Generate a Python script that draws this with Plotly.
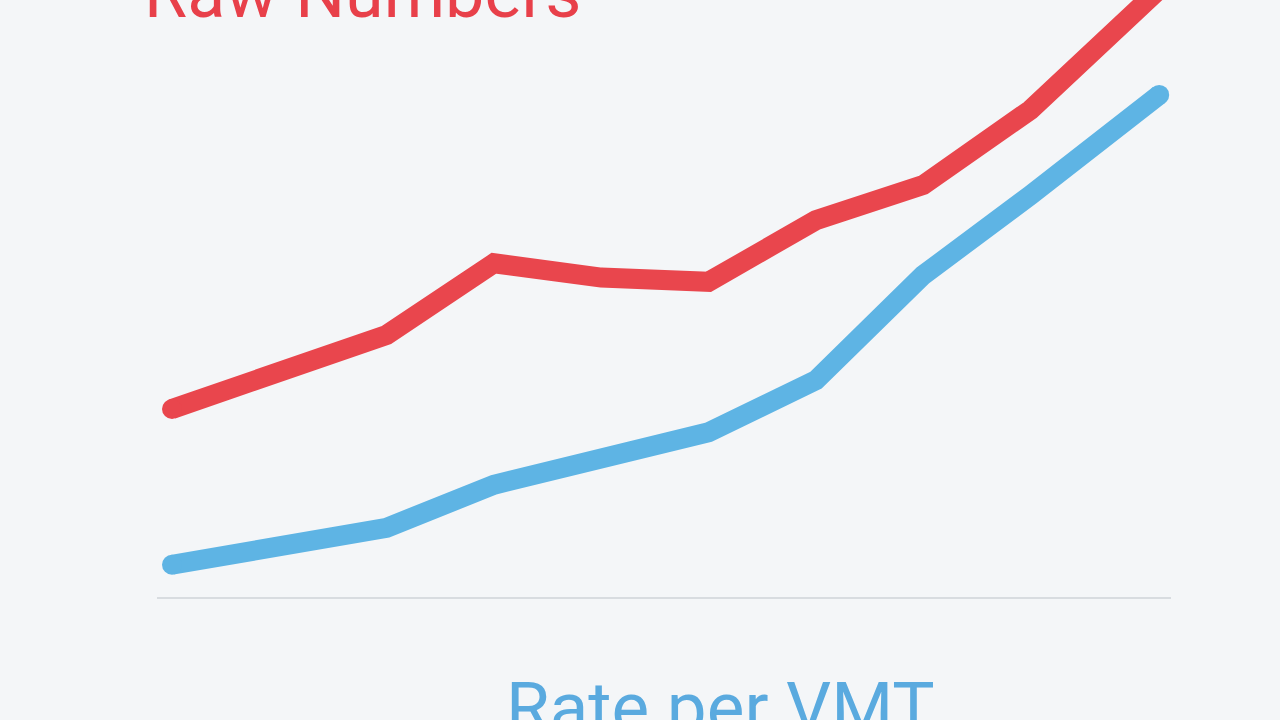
import plotly.graph_objects as go

# Data (arbitrary index units)
x_pos = [0, 1, 2, 3, 4, 5, 6, 7, 8, 9.2]
raw_numbers = [31.5, 37.4, 43.9, 55.9, 53.5, 52.8, 63.1, 69.0, 81.6, 101.8]
rate_per_vmt = [5.4, 8.4, 11.6, 18.8, 23.1, 27.6, 36.3, 53.9, 67.3, 84.1]

series_names = ["Raw Numbers", "Rate per VMT"]

RED = "#E9464D"
BLUE = "#5EB4E4"
BG = "#F4F6F8"

# round caps only at the two ends of each line
cap_sizes = [20] + [0] * (len(x_pos) - 2) + [20]

fig = go.Figure()
fig.add_trace(go.Scatter(
    x=x_pos, y=raw_numbers, mode="lines+markers", name=series_names[0],
    line=dict(color=RED, width=20),
    marker=dict(color=RED, size=cap_sizes, opacity=1, line=dict(width=0)),
    hoverinfo="skip",
))
fig.add_trace(go.Scatter(
    x=x_pos, y=rate_per_vmt, mode="lines+markers", name=series_names[1],
    line=dict(color=BLUE, width=20),
    marker=dict(color=BLUE, size=cap_sizes, opacity=1, line=dict(width=0)),
    hoverinfo="skip",
))

fig.update_layout(
    width=1280, height=720,
    paper_bgcolor=BG, plot_bgcolor=BG,
    margin=dict(l=157, r=109, t=0, b=123, pad=0),
    showlegend=False,
    font=dict(family="Roboto"),
    xaxis=dict(range=[-0.14, 9.31], showgrid=False, zeroline=False,
               showticklabels=False, ticks="", showline=True,
               linecolor="#D8DCE0", linewidth=2),
    yaxis=dict(range=[0, 100], showgrid=False, zeroline=False,
               showticklabels=False, ticks="", showline=False),
    annotations=[
        dict(text=series_names[0], xref="paper", yref="paper",
             x=0.203, y=(597 + 7) / 597, xanchor="center", yanchor="middle",
             showarrow=False, font=dict(size=70, color="#E8404A", family="Roboto")),
        dict(text=series_names[1], xref="paper", yref="paper",
             x=0.556, y=(597 - 707) / 597, xanchor="center", yanchor="middle",
             showarrow=False, font=dict(size=71, color="#5AAADF", family="Roboto")),
    ],
)

fig.write_html(
    "out.html",
    config={"displayModeBar": False, "staticPlot": True},
    post_script="document.body.style.margin='0';document.body.style.overflow='hidden';",
)
